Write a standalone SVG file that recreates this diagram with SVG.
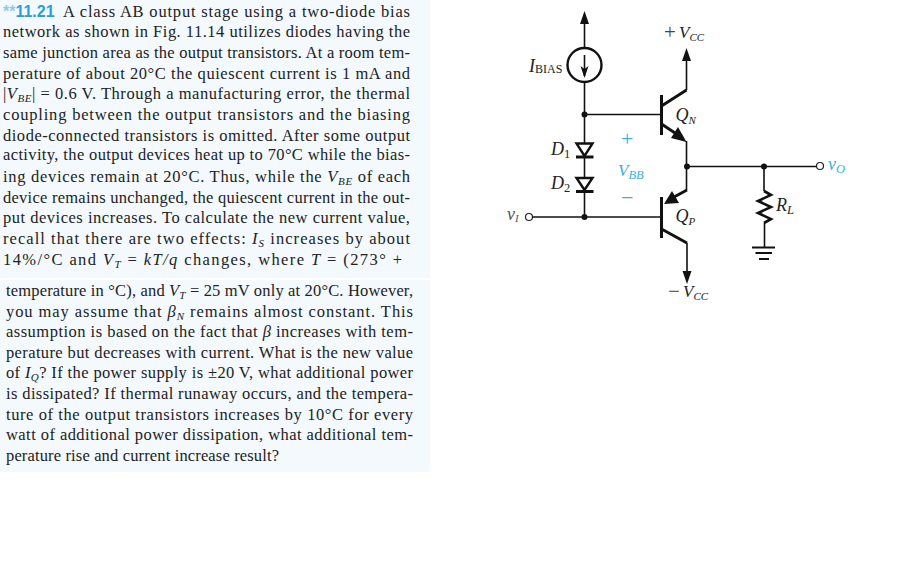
<svg xmlns="http://www.w3.org/2000/svg" width="908" height="563" viewBox="0 0 908 563">
<style>
.t{font-family:"Liberation Serif","Times New Roman",serif;font-size:16.500px;fill:#222}
.i{font-style:italic}
.s{font-size:11px}
.u{font-size:12.500px}
.w{fill:none;stroke:#111;stroke-width:1.6}
.b{fill:none;stroke:#111;stroke-width:3}
.d{fill:#fff;stroke:#111;stroke-width:2.4}
.l{font-family:"Liberation Serif","Times New Roman",serif;font-size:18px;fill:#222}
.o{fill:#fff;stroke:#222;stroke-width:1.2}
</style>
<rect x="0" y="0" width="430" height="278" fill="#f3f9fd"/>
<rect x="0" y="280" width="430" height="192" fill="#f3f9fd"/>
<g id="problem-text">
<text x="3" y="17" font-family="'Liberation Sans',Arial,sans-serif" font-size="16" font-weight="bold" fill="#2a9fd6"><tspan fill="#8fcbe8">**</tspan>11.21</text>
<text class="t" x="63" y="17" textLength="347">A class AB output stage using a two-diode bias</text>
<text class="t" x="3" y="37" textLength="407">network as shown in Fig. 11.14 utilizes diodes having the</text>
<text class="t" x="3" y="58" textLength="407">same junction area as the output transistors. At a room tem-</text>
<text class="t" x="3" y="79" textLength="407">perature of about 20°C the quiescent current is 1 mA and</text>
<text class="t" x="3" y="99" textLength="407">|<tspan class="i">V</tspan><tspan class="i s" dy="3">BE</tspan><tspan dy="-3">| = 0.6 V. Through a manufacturing error, the thermal</tspan></text>
<text class="t" x="3" y="120" textLength="407">coupling between the output transistors and the biasing</text>
<text class="t" x="3" y="141" textLength="407">diode-connected transistors is omitted. After some output</text>
<text class="t" x="3" y="160" textLength="407">activity, the output devices heat up to 70°C while the bias-</text>
<text class="t" x="3" y="182" textLength="407">ing devices remain at 20°C. Thus, while the <tspan class="i">V</tspan><tspan class="i s" dy="3">BE</tspan><tspan dy="-3"> of each</tspan></text>
<text class="t" x="3" y="203" textLength="407">device remains unchanged, the quiescent current in the out-</text>
<text class="t" x="3" y="223" textLength="407">put devices increases. To calculate the new current value,</text>
<text class="t" x="3" y="244" textLength="407">recall that there are two effects: <tspan class="i">I</tspan><tspan class="i s" dy="3">S</tspan><tspan dy="-3"> increases by about</tspan></text>
<text class="t" x="3" y="265" textLength="399">14%/°C and <tspan class="i">V</tspan><tspan class="i s" dy="3">T</tspan><tspan dy="-3"> = </tspan><tspan class="i">kT/q</tspan> changes, where <tspan class="i">T</tspan> = (273° +</text>
<text class="t" x="6" y="296" textLength="407">temperature in °C), and <tspan class="i">V</tspan><tspan class="i s" dy="3">T</tspan><tspan dy="-3"> = 25 mV only at 20°C. However,</tspan></text>
<text class="t" x="6" y="317" textLength="407">you may assume that <tspan class="i">β</tspan><tspan class="i s" dy="3">N</tspan><tspan dy="-3"> remains almost constant. This</tspan></text>
<text class="t" x="6" y="337" textLength="407">assumption is based on the fact that <tspan class="i">β</tspan> increases with tem-</text>
<text class="t" x="6" y="358" textLength="407">perature but decreases with current. What is the new value</text>
<text class="t" x="6" y="378" textLength="407">of <tspan class="i">I</tspan><tspan class="i s" dy="3">Q</tspan><tspan dy="-3">? If the power supply is ±20 V, what additional power</tspan></text>
<text class="t" x="6" y="399" textLength="407">is dissipated? If thermal runaway occurs, and the tempera-</text>
<text class="t" x="6" y="420" textLength="407">ture of the output transistors increases by 10°C for every</text>
<text class="t" x="6" y="440" textLength="407">watt of additional power dissipation, what additional tem-</text>
<text class="t" x="6" y="461" textLength="273">perature rise and current increase result?</text>
</g>
<g id="connectors">
<path class="w" d="M584.500 48V24"/>
<path d="M584.500 11L589 24H580Z" fill="#111"/>
<path class="w" d="M584.500 83V143M584.500 157V178M584.500 191V217"/>
<path class="w" d="M584.500 114.500H661"/>
<path class="w" d="M532.500 217H661"/>
<path class="w" d="M686.500 90V60"/>
<path d="M686.500 48L691 61H682Z" fill="#111"/>
<path class="w" d="M686.500 141V190"/>
<path class="w" d="M687 166.500H816.500"/>
<path class="w" d="M687 243V272"/>
<path d="M687 284L682.500 271H691.500Z" fill="#111"/>
<path class="w" d="M764 166.500V191M764.500 223V247"/>
</g>
<g id="source-ibias">
<circle cx="584.500" cy="65" r="17" fill="#fff" stroke="#111" stroke-width="2.400"/>
<path class="w" d="M584.500 55V76"/>
<path d="M584.500 78L580.500 66L584.500 69L588.500 66Z" fill="#111"/>
<text class="l i" x="529" y="72">I<tspan class="s" style="font-size:12px;font-style:normal" dy="1">BIAS</tspan></text>
</g>
<g id="transistor-qn">
<path class="b" d="M661.500 95V135"/>
<path class="b" d="M661.500 106L686.500 90"/>
<path class="b" d="M661.500 124L675 133"/>
<path d="M686.500 142L671 138L678 127Z" fill="#111"/>
<text class="l i" x="675.500" y="121">Q<tspan class="s" dy="3">N</tspan></text>
</g>
<g id="transistor-qp">
<path class="b" d="M661.500 197V238"/>
<path class="b" d="M687 190L674 197"/>
<path d="M664 204L672 191L679 203Z" fill="#111"/>
<path class="b" d="M661.500 229L687 243"/>
<text class="l i" x="675.500" y="222">Q<tspan class="s" dy="3">P</tspan></text>
</g>
<g id="diode-d1">
<path class="d" d="M576.500 143.500H592.500L584.500 156Z"/>
<path class="b" d="M576 157H593.500"/>
<text class="l i" x="551" y="155">D<tspan class="u" font-style="normal" dy="3">1</tspan></text>
</g>
<g id="diode-d2">
<path class="d" d="M576.500 178H592.500L584.500 190Z"/>
<path class="b" d="M576 191.500H593.500"/>
<text class="l i" x="551" y="189">D<tspan class="u" font-style="normal" dy="3">2</tspan></text>
</g>
<g id="resistor-rl">
<path d="M764 191L771 195L758 201L771 207L758 213L771 219L764 223" fill="none" stroke="#111" stroke-width="2.600"/>
<text class="l i" x="776" y="211">R<tspan class="u" dy="3">L</tspan></text>
</g>
<g id="ground">
<path class="w" style="stroke-width:2" d="M752 247.500H775M755.500 253H772M759 259H769"/>
</g>
<g id="node-base-n"><circle cx="584.500" cy="114.500" r="3" fill="#111"/></g>
<g id="node-input"><circle cx="584.500" cy="217" r="3" fill="#111"/></g>
<g id="node-output"><circle cx="687" cy="166.500" r="3" fill="#111"/></g>
<g id="node-load"><circle cx="764" cy="166.500" r="3" fill="#111"/></g>
<g id="terminal-vi">
<circle class="o" cx="529" cy="217" r="3.500"/>
<text class="l i" x="507" y="220" style="fill:#555">v<tspan class="s" dy="2">I</tspan></text>
</g>
<g id="terminal-vo">
<circle class="o" cx="820" cy="166" r="3.500"/>
<text class="l i" x="828" y="170" style="fill:#35b0e6">v<tspan class="u" dy="3">O</tspan></text>
</g>
<g id="label-vbb">
<text class="l" x="621" y="146" style="fill:#35b0e6;font-size:22px">+</text>
<text class="l i" x="618" y="176" style="fill:#35b0e6;font-size:17px">V<tspan class="u" dy="3">BB</tspan></text>
<text class="l" x="621" y="205" style="fill:#35b0e6;font-size:22px">−</text>
</g>
<g id="label-vcc-pos">
<text class="l" x="664" y="39" style="font-size:21px;fill:#444">+</text>
<text class="l i" x="679" y="38" style="font-size:17px">V<tspan class="s" dy="3">CC</tspan></text>
</g>
<g id="label-vcc-neg">
<text class="l" x="668" y="298" style="font-size:21px;fill:#444">−</text>
<text class="l i" x="683" y="297" style="font-size:17px">V<tspan class="s" dy="3">CC</tspan></text>
</g>
</svg>
